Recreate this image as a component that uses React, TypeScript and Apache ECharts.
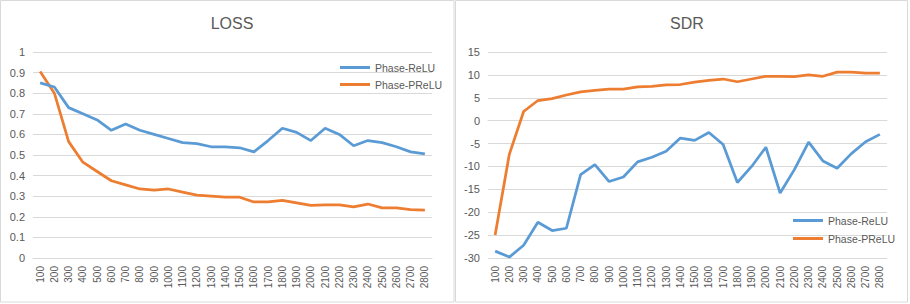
import React, { useEffect, useRef } from "react";
import * as echarts from "echarts";

const categories = ["100","200","300","400","500","600","700","800","900","1000","1100","1200","1300","1400","1500","1600","1700","1800","1900","2000","2100","2200","2300","2400","2500","2600","2700","2800"];

const lossReLU = [0.85,0.83,0.73,0.70,0.67,0.62,0.65,0.62,0.60,0.58,0.56,0.555,0.54,0.54,0.535,0.515,0.57,0.63,0.61,0.57,0.63,0.60,0.545,0.57,0.56,0.54,0.515,0.505];
const lossPReLU = [0.905,0.80,0.565,0.465,0.42,0.375,0.355,0.335,0.33,0.335,0.32,0.305,0.30,0.295,0.295,0.272,0.272,0.28,0.268,0.255,0.258,0.258,0.248,0.262,0.243,0.243,0.235,0.233];

const sdrReLU = [-28.5,-29.8,-27.2,-22.2,-24.0,-23.5,-11.8,-9.6,-13.3,-12.3,-9.0,-8.0,-6.7,-3.8,-4.3,-2.6,-5.2,-13.5,-10.0,-5.8,-15.8,-10.7,-4.7,-8.8,-10.4,-7.2,-4.6,-3.0];
const sdrPReLU = [-25.0,-7.3,2.0,4.4,4.8,5.6,6.3,6.6,6.9,6.9,7.4,7.5,7.8,7.9,8.4,8.8,9.1,8.5,9.1,9.7,9.7,9.6,10.0,9.7,10.6,10.6,10.4,10.4];

const seriesNames = ["Phase-ReLU", "Phase-PReLU"];
const colors = ["#5B9BD5", "#ED7D31"];

export default function App() {
  const ref = useRef<HTMLDivElement>(null);
  useEffect(() => {
    if (!ref.current) return;
    const chart = echarts.init(ref.current, null, { renderer: "svg" });
    const font = "'Liberation Sans', Arial, sans-serif";
    const textColor = "#595959";
    const gridColor = "#d9d9d9";
    const xAxisCommon = (gi: number) => ({
      type: "category",
      gridIndex: gi,
      data: categories,
      boundaryGap: true,
      axisLine: { show: true, lineStyle: { color: gridColor } },
      axisTick: { show: false },
      axisLabel: { rotate: 90, interval: 0, color: textColor, fontSize: 10, fontFamily: font, margin: 8 },
      splitLine: { show: false },
    });
    const yAxisCommon = (gi: number, min: number, max: number, interval: number) => ({
      type: "value",
      gridIndex: gi,
      min, max, interval,
      axisLine: { show: false },
      axisTick: { show: false },
      axisLabel: { color: textColor, fontSize: 11, fontFamily: font, margin: 8 },
      splitLine: { show: true, lineStyle: { color: gridColor, width: 1 } },
    });
    const line = (name: string, data: number[], color: string, gi: number) => ({
      type: "line",
      name,
      data,
      xAxisIndex: gi,
      yAxisIndex: gi,
      symbol: "none",
      showSymbol: false,
      lineStyle: { color, width: 2.75 },
      itemStyle: { color },
      z: name === "Phase-ReLU" ? 3 : 2,
    });
    chart.setOption({
      animation: false,
      backgroundColor: "#ffffff",
      color: colors,
      title: [
        { text: "LOSS", left: 227, top: 10, textAlign: "center", textStyle: { color: textColor, fontSize: 16, fontWeight: "normal", fontFamily: font } },
        { text: "SDR", left: 682, top: 10, textAlign: "center", textStyle: { color: textColor, fontSize: 16, fontWeight: "normal", fontFamily: font } },
      ],
      legend: [
        {
          data: seriesNames, orient: "vertical", left: 335, top: 57, itemGap: 6,
          icon: "rect", itemWidth: 30, itemHeight: 3,
          textStyle: { color: textColor, fontSize: 10.5, fontFamily: font },
          selectedMode: false,
        },
        {
          data: seriesNames, orient: "vertical", left: 788, top: 210, itemGap: 7,
          icon: "rect", itemWidth: 30, itemHeight: 3,
          textStyle: { color: textColor, fontSize: 10.5, fontFamily: font },
          selectedMode: false,
        },
      ],
      graphic: [
        { type: "rect", shape: { x: 0.5, y: 0.5, width: 453.5, height: 301.5 }, style: { fill: "none", stroke: gridColor, lineWidth: 1 } },
        { type: "rect", shape: { x: 455.5, y: 0.5, width: 452, height: 301.5 }, style: { fill: "none", stroke: gridColor, lineWidth: 1 } },
      ],
      grid: [
        { left: 33, top: 52, width: 399, height: 206, containLabel: false },
        { left: 488, top: 52, width: 399, height: 206, containLabel: false },
      ],
      xAxis: [xAxisCommon(0), xAxisCommon(1)],
      yAxis: [yAxisCommon(0, 0, 1, 0.1), yAxisCommon(1, -30, 15, 5)],
      series: [
        line("Phase-ReLU", lossReLU, colors[0], 0),
        line("Phase-PReLU", lossPReLU, colors[1], 0),
        line("Phase-ReLU", sdrReLU, colors[0], 1),
        line("Phase-PReLU", sdrPReLU, colors[1], 1),
      ],
    });
    return () => chart.dispose();
  }, []);
  return <div ref={ref} style={{ position: "fixed", left: 0, top: 0, width: 910, height: 304, background: "#fff" }} />;
}
